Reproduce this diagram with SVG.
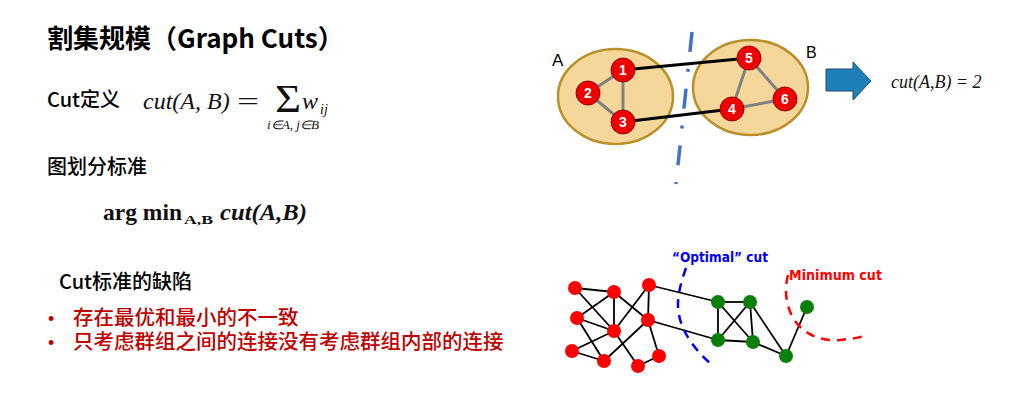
<svg xmlns="http://www.w3.org/2000/svg" width="1018" height="413" viewBox="0 0 1018 413">
<style>
.cn{font-family:"Noto Sans CJK SC","Noto Sans",sans-serif;fill:#000}
.title{font-size:26px;font-weight:bold}
.h{font-size:20px;font-weight:500}
.red{font-size:20.5px;font-weight:500;fill:#c00000}
.bul{font-family:"Liberation Sans",Arial,sans-serif;font-size:18px;fill:#c00000}
.tm{font-family:"Liberation Serif",serif;fill:#111}
.it{font-style:italic}
.tn{font-family:"Liberation Sans",Arial,sans-serif;font-size:14px;font-weight:bold;fill:#fff;text-anchor:middle}
.grp{fill:#f6d79b;stroke:#b8902a;stroke-width:2.5}
.rn{fill:#ee0000;stroke:#a00000;stroke-width:1}
.ge{stroke:#808080;stroke-width:3}
.be{stroke:#000;stroke-width:3}
.e{stroke:#000;stroke-width:1.8}
.r{fill:#ff0000}
.g{fill:#0a800a}
.lbl{font-family:"DejaVu Sans",Verdana,sans-serif;font-size:14px;font-weight:bold}
</style>

<g id="text-left">
  <text class="cn title" x="47" y="48">割集规模（Graph Cuts）</text>
  <text class="cn h" x="47" y="107">Cut定义</text>
  <g id="formula1">
    <text class="tm it" x="143" y="109" font-size="24">cut(A, B)</text>
    <text class="tm" x="237" y="109" font-size="24" textLength="22" lengthAdjust="spacingAndGlyphs">=</text>
    <text class="tm" x="275" y="112" font-size="40" textLength="26" lengthAdjust="spacingAndGlyphs">Σ</text>
    <text class="tm it" x="302" y="109" font-size="24">w</text>
    <text class="tm it" x="320" y="114" font-size="14">ij</text>
    <text class="tm it" x="267" y="129" font-size="12" textLength="52" lengthAdjust="spacingAndGlyphs">i∈A, j∈B</text>
  </g>
  <text class="cn h" x="47" y="174">图划分标准</text>
  <g id="formula2" font-weight="bold">
    <text class="tm" x="103" y="220" font-size="23" textLength="79" lengthAdjust="spacingAndGlyphs">arg min</text>
    <text class="tm" x="184" y="224" font-size="13" textLength="29" lengthAdjust="spacingAndGlyphs">A,B</text>
    <text class="tm it" x="220" y="220" font-size="24" textLength="87" lengthAdjust="spacingAndGlyphs">cut(A,B)</text>
  </g>
  <text class="cn h" x="59" y="289">Cut标准的缺陷</text>
  <text class="bul" x="48" y="325">•</text>
  <text class="cn red" x="73" y="325">存在最优和最小的不一致</text>
  <text class="bul" x="48" y="349">•</text>
  <text class="cn red" x="73" y="349">只考虑群组之间的连接没有考虑群组内部的连接</text>
</g>

<g id="top-graph">
  <g id="groupA"><ellipse class="grp" cx="615.5" cy="96.5" rx="57.5" ry="47.5"/>
    <text x="552" y="66" font-family="Liberation Sans,Arial,sans-serif" font-size="17" fill="#000">A</text></g>
  <g id="groupB"><ellipse class="grp" cx="750.5" cy="87.5" rx="57.5" ry="47.5"/>
    <text x="806" y="58" font-family="Liberation Sans,Arial,sans-serif" font-size="16" fill="#000">B</text></g>
  <g id="top-edges">
    <line class="ge" x1="623" y1="70" x2="588" y2="93"/>
    <line class="ge" x1="623" y1="70" x2="623" y2="122"/>
    <line class="ge" x1="588" y1="93" x2="623" y2="122"/>
    <line class="ge" x1="749" y1="58" x2="732" y2="109"/>
    <line class="ge" x1="749" y1="58" x2="785" y2="99"/>
    <line class="ge" x1="732" y1="109" x2="785" y2="99"/>
    <line class="be" x1="623" y1="70" x2="749" y2="58"/>
    <line class="be" x1="623" y1="122" x2="732" y2="109"/>
  </g>
  <g id="n1"><circle class="rn" cx="623" cy="70" r="12"/><text class="tn" x="623" y="75">1</text></g>
  <g id="n2"><circle class="rn" cx="588" cy="93" r="12"/><text class="tn" x="588" y="98">2</text></g>
  <g id="n3"><circle class="rn" cx="623" cy="122" r="12"/><text class="tn" x="623" y="127">3</text></g>
  <g id="n4"><circle class="rn" cx="732" cy="109" r="12"/><text class="tn" x="732" y="114">4</text></g>
  <g id="n5"><circle class="rn" cx="749" cy="58" r="12"/><text class="tn" x="749" y="63">5</text></g>
  <g id="n6"><circle class="rn" cx="785" cy="99" r="12"/><text class="tn" x="785" y="104">6</text></g>
  <line id="cutline" x1="692" y1="32" x2="676" y2="184" stroke="#4472c4" stroke-width="3.5" stroke-dasharray="20 17 3 17"/>
  <polygon id="arrow" points="826,69 853,69 853,62 871,81 853,100 853,91 826,91" fill="#1f80b8" stroke="#1a4f72" stroke-width="1"/>
  <text x="891" y="88" class="tm it" font-size="18" fill="#333">cut(A,B) = 2</text>
</g>

<g id="bottom-graph">
  <g id="connectors">
    <line class="e" x1="575" y1="288" x2="614" y2="292"/>
    <line class="e" x1="575" y1="288" x2="614" y2="331"/>
    <line class="e" x1="614" y1="292" x2="577" y2="318"/>
    <line class="e" x1="614" y1="292" x2="614" y2="331"/>
    <line class="e" x1="614" y1="292" x2="648" y2="320"/>
    <line class="e" x1="649" y1="285" x2="614" y2="331"/>
    <line class="e" x1="649" y1="285" x2="648" y2="320"/>
    <line class="e" x1="577" y1="318" x2="614" y2="331"/>
    <line class="e" x1="577" y1="318" x2="604" y2="361"/>
    <line class="e" x1="572" y1="351" x2="614" y2="331"/>
    <line class="e" x1="572" y1="351" x2="604" y2="361"/>
    <line class="e" x1="614" y1="331" x2="638" y2="366"/>
    <line class="e" x1="648" y1="320" x2="604" y2="361"/>
    <line class="e" x1="648" y1="320" x2="659" y2="356"/>
    <line class="e" x1="638" y1="366" x2="659" y2="356"/>
    <line class="e" x1="649" y1="285" x2="718" y2="302"/>
    <line class="e" x1="648" y1="320" x2="718" y2="340"/>
    <line class="e" x1="718" y1="302" x2="750" y2="302"/>
    <line class="e" x1="718" y1="302" x2="718" y2="340"/>
    <line class="e" x1="718" y1="302" x2="753" y2="342"/>
    <line class="e" x1="750" y1="302" x2="718" y2="340"/>
    <line class="e" x1="750" y1="302" x2="753" y2="342"/>
    <line class="e" x1="718" y1="340" x2="753" y2="342"/>
    <line class="e" x1="750" y1="302" x2="786" y2="356"/>
    <line class="e" x1="753" y1="342" x2="786" y2="356"/>
    <line class="e" x1="786" y1="356" x2="807" y2="307"/>
  </g>
  <g id="red-nodes">
    <circle class="r" cx="575" cy="288" r="7"/>
    <circle class="r" cx="614" cy="292" r="7"/>
    <circle class="r" cx="649" cy="285" r="7"/>
    <circle class="r" cx="577" cy="318" r="7"/>
    <circle class="r" cx="614" cy="331" r="7"/>
    <circle class="r" cx="648" cy="320" r="7"/>
    <circle class="r" cx="572" cy="351" r="7"/>
    <circle class="r" cx="604" cy="361" r="7"/>
    <circle class="r" cx="638" cy="366" r="7"/>
    <circle class="r" cx="659" cy="356" r="7"/>
  </g>
  <g id="green-nodes">
    <circle class="g" cx="718" cy="302" r="7"/>
    <circle class="g" cx="750" cy="302" r="7"/>
    <circle class="g" cx="718" cy="340" r="7"/>
    <circle class="g" cx="753" cy="342" r="7"/>
    <circle class="g" cx="786" cy="356" r="7"/>
    <circle class="g" cx="807" cy="307" r="7"/>
  </g>
  <path id="optimal-cut" d="M686,268 C680,285 676,300 679,315 C682,332 695,350 710,363" fill="none" stroke="#0000ff" stroke-width="2.5" stroke-dasharray="9 7"/>
  <path id="minimum-cut" d="M788,275 C784,290 786,305 793,318 C802,333 820,342 840,340 C850,339 857,338 864,336" fill="none" stroke="#ff0000" stroke-width="2.5" stroke-dasharray="9 7"/>
  <text class="lbl" x="672" y="262" fill="#0000ff" textLength="96" lengthAdjust="spacingAndGlyphs">“Optimal” cut</text>
  <text class="lbl" x="789" y="280" fill="#ff0000" textLength="93" lengthAdjust="spacingAndGlyphs">Minimum cut</text>
</g>
</svg>
